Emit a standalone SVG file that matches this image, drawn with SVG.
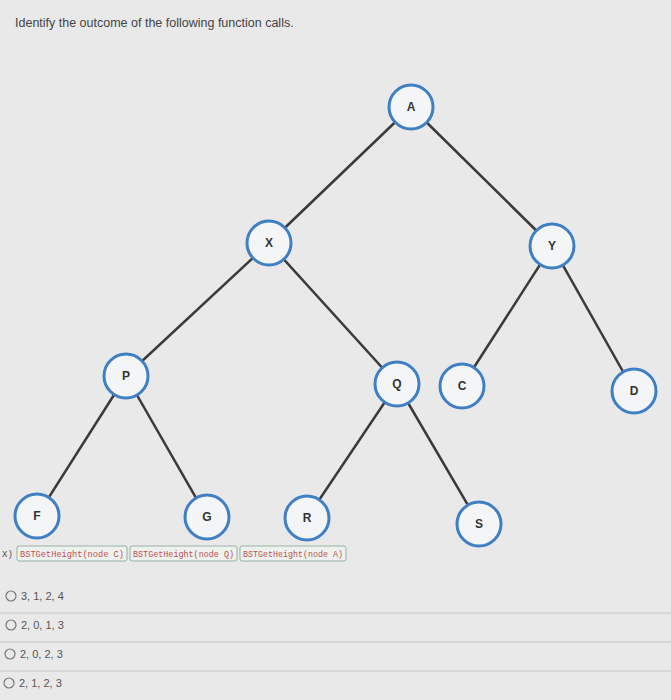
<svg xmlns="http://www.w3.org/2000/svg" width="671" height="700" viewBox="0 0 671 700">
<style>
.n circle{fill:#f4f5f7;stroke:#3f7fc4;stroke-width:3}
.n text{font:bold 12px "Liberation Sans",sans-serif;fill:#333;text-anchor:middle}
.e line{stroke:#3a3a3a;stroke-width:2.5}
.code{font:9px "Liberation Mono",monospace;fill:#c0504d}
.cb{fill:#eef2ee;stroke:#9ab0a8}
.opt{font:11px "Liberation Sans",sans-serif;fill:#555}
.oc{fill:none;stroke:#777;stroke-width:1.2}
.sep{stroke:#c8c8c8}
</style>
<rect width="671" height="700" fill="#e9e9ea"/>
<text x="15" y="27" font-family="Liberation Sans,sans-serif" font-size="12.5" fill="#444">Identify the outcome of the following function calls.</text>
<g class="e">
<line x1="411" y1="107" x2="269" y2="243"/><line x1="411" y1="107" x2="552" y2="246"/>
<line x1="269" y1="243" x2="126" y2="376"/><line x1="269" y1="243" x2="397" y2="384"/>
<line x1="552" y1="246" x2="462" y2="386"/><line x1="552" y1="246" x2="634" y2="391"/>
<line x1="126" y1="376" x2="37" y2="516"/><line x1="126" y1="376" x2="207" y2="517"/>
<line x1="397" y1="384" x2="307" y2="518"/><line x1="397" y1="384" x2="479" y2="524"/>
</g>
<g id="A" class="n"><circle cx="411" cy="107" r="22"/><text x="411" y="111">A</text></g>
<g id="X" class="n"><circle cx="269" cy="243" r="22"/><text x="269" y="247">X</text></g>
<g id="Y" class="n"><circle cx="552" cy="246" r="22"/><text x="552" y="250">Y</text></g>
<g id="P" class="n"><circle cx="126" cy="376" r="22"/><text x="126" y="380">P</text></g>
<g id="Q" class="n"><circle cx="397" cy="384" r="22"/><text x="397" y="388">Q</text></g>
<g id="C" class="n"><circle cx="462" cy="386" r="22"/><text x="462" y="390">C</text></g>
<g id="D" class="n"><circle cx="634" cy="391" r="22"/><text x="634" y="395">D</text></g>
<g id="F" class="n"><circle cx="37" cy="516" r="22"/><text x="37" y="520">F</text></g>
<g id="G" class="n"><circle cx="207" cy="517" r="22"/><text x="207" y="521">G</text></g>
<g id="R" class="n"><circle cx="307" cy="518" r="22"/><text x="307" y="522">R</text></g>
<g id="S" class="n"><circle cx="479" cy="524" r="22"/><text x="479" y="528">S</text></g>
<text x="2" y="557" class="code" style="fill:#555">X)</text>
<rect class="cb" x="17" y="546" width="110" height="15" rx="2"/><text class="code" x="20" y="557" textLength="104" lengthAdjust="spacingAndGlyphs">BSTGetHeight(node C)</text>
<rect class="cb" x="130" y="546" width="107" height="15" rx="2"/><text class="code" x="133" y="557" textLength="101" lengthAdjust="spacingAndGlyphs">BSTGetHeight(node Q)</text>
<rect class="cb" x="240" y="546" width="106" height="15" rx="2"/><text class="code" x="243" y="557" textLength="100" lengthAdjust="spacingAndGlyphs">BSTGetHeight(node A)</text>
<line class="sep" x1="0" y1="613" x2="671" y2="613"/>
<line class="sep" x1="0" y1="642" x2="671" y2="642"/>
<line class="sep" x1="0" y1="671" x2="671" y2="671"/>
<circle class="oc" cx="11" cy="596" r="5"/><text class="opt" x="21" y="600">3, 1, 2, 4</text>
<circle class="oc" cx="11" cy="625" r="5"/><text class="opt" x="21" y="629">2, 0, 1, 3</text>
<circle class="oc" cx="10" cy="654" r="5"/><text class="opt" x="20" y="658">2, 0, 2, 3</text>
<circle class="oc" cx="9" cy="683" r="5"/><text class="opt" x="19" y="687">2, 1, 2, 3</text>
</svg>
